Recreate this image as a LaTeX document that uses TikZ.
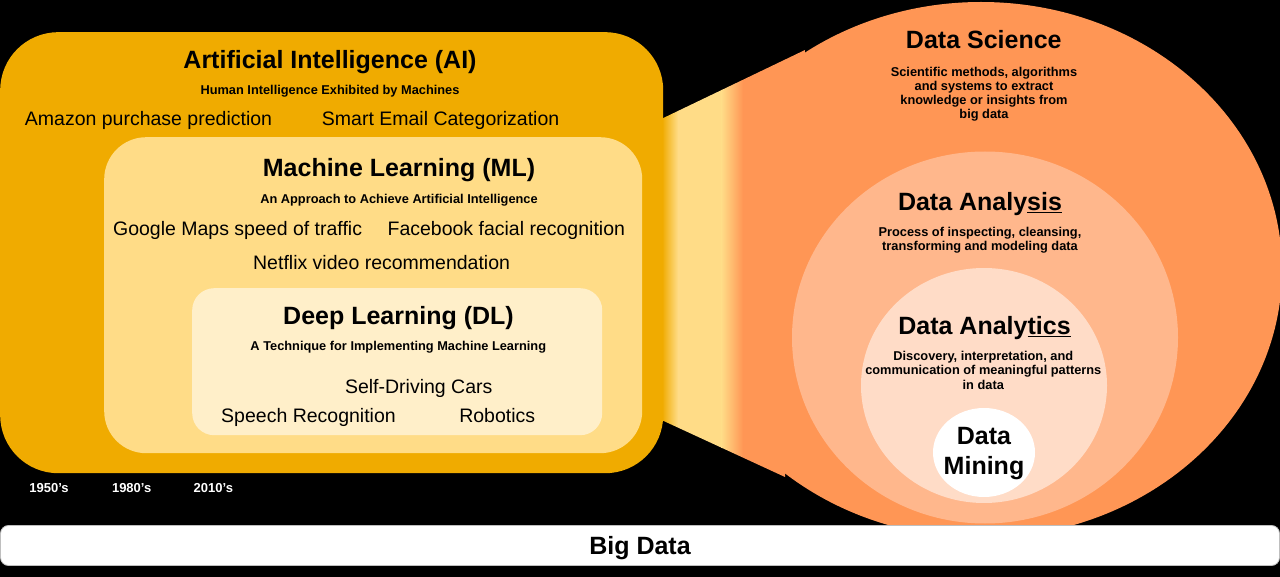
\documentclass[tikz,border=0pt]{standalone}
\usepackage{fontspec}
\setmainfont{Liberation Sans}
\usetikzlibrary{shapes.geometric, positioning}

\definecolor{aigold}{RGB}{240,171,0}
\definecolor{mlyellow}{RGB}{255,220,135}
\definecolor{dlcream}{RGB}{255,239,201}
\definecolor{dsorange}{RGB}{255,150,85}
\definecolor{daorange}{RGB}{255,183,140}
\definecolor{dapeach}{RGB}{255,220,199}

\newcommand{\uscore}[1]{\setbox0\hbox{#1}\rlap{\rule[-2.6pt]{\wd0}{1.3pt}}\box0}

\begin{document}
\begin{tikzpicture}[
    x=1pt, y=-1pt,
    aibox/.style={rectangle, fill=aigold, rounded corners=58pt, anchor=north west, inner sep=0pt},
    mlbox/.style={rectangle, fill=mlyellow, rounded corners=42pt, anchor=north west, inner sep=0pt},
    dlbox/.style={rectangle, fill=dlcream, rounded corners=22pt, anchor=north west, inner sep=0pt},
    field/.style={ellipse, inner sep=0pt},
    title/.style={font=\fontsize{25}{30}\selectfont\bfseries, anchor=base, inner sep=0pt},
    subtitle/.style={font=\fontsize{12.8}{14.5}\selectfont\bfseries, anchor=base, inner sep=0pt},
    example/.style={font=\fontsize{19.5}{22}\selectfont, anchor=base, inner sep=0pt},
    era/.style={font=\fontsize{13}{15}\selectfont\bfseries, text=white, anchor=base, inner sep=0pt},
    desc/.style={font=\fontsize{12.8}{14.2}\selectfont\bfseries, align=center, anchor=north, inner sep=0pt},
    minetext/.style={font=\fontsize{25}{30}\selectfont\bfseries, align=center, anchor=north, inner sep=0pt},
    bar/.style={rectangle, fill=white, draw=gray!50, line width=0.8pt, rounded corners=8pt, minimum width=1279pt, minimum height=40pt, text depth=0pt, font=\fontsize{25}{30}\selectfont\bfseries}
]

\useasboundingbox (0,0) rectangle (1280,577);
\fill[black] (0,0) rectangle (1280,577);

% Data Science (outer circle)
\node[field, fill=dsorange, minimum width=602pt, minimum height=536pt] (science) at (981,270) {};

% Funnel from AI to Data Science
\begin{scope}
  \clip (655,122) -- (805,50) -- (785,477) -- (655,417) -- cycle;
  \shade[left color=aigold, right color=mlyellow] (662,0) rectangle (678,577);
  \fill[mlyellow] (677.5,0) rectangle (722,577);
  \shade[left color=mlyellow, right color=dsorange] (721.5,0) rectangle (743,577);
  \fill[dsorange] (742.5,0) rectangle (810,577);
\end{scope}

% Inner circles
\node[field, fill=daorange, minimum width=386pt, minimum height=372pt] (analysis) at (985,337.5) {};
\node[field, fill=dapeach, minimum width=246pt, minimum height=235pt] (analytics) at (984,385.5) {};
\node[field, fill=white, minimum width=102pt, minimum height=89pt] (mining) at (984,452.5) {};

% AI / ML / DL boxes
\node[aibox, minimum width=663pt, minimum height=441pt] (ai) at (0,32) {};
\node[mlbox, minimum width=538pt, minimum height=316pt] (ml) at (104,137) {};
\node[dlbox, minimum width=410pt, minimum height=147pt] (dl) at (192,288) {};

% Artificial Intelligence
\node[title] (aititle) at (330,68.3) {Artificial Intelligence (AI)};
\node[subtitle] (aisub) at (330,95) {Human Intelligence Exhibited by Machines};
\node[example] (amazon) at (148.5,126) {Amazon purchase prediction};
\node[example] (email) at (440.6,126) {Smart Email Categorization};

% Machine Learning
\node[title] (mltitle) at (399,176.7) {Machine Learning (ML)};
\node[subtitle] (mlsub) at (399,204) {An Approach to Achieve Artificial Intelligence};
\node[example] (maps) at (237.6,236) {Google Maps speed of traffic};
\node[example] (facebook) at (506.3,236) {Facebook facial recognition};
\node[example] (netflix) at (381.6,270) {Netflix video recommendation};

% Deep Learning
\node[title] (dltitle) at (398.5,325) {Deep Learning (DL)};
\node[subtitle] (dlsub) at (398.3,350.7) {A Technique for Implementing Machine Learning};
\node[example] (cars) at (418.7,393.3) {Self-Driving Cars};
\node[example] (speech) at (308.5,422.3) {Speech Recognition};
\node[example] (robotics) at (497.2,422.3) {Robotics};

% Timeline
\node[era] (e1950) at (49,492.3) {1950's};
\node[era, right=43pt of e1950] (e1980) {1980's};
\node[era, right=42pt of e1980] (e2010) {2010's};

% Data texts
\node[title] (dstitle) at (983.8,49) {Data Science};
\node[desc] (dsdesc) at (984,66.7) {Scientific methods, algorithms\\and systems to extract\\knowledge or insights from\\big data};
\node[title] (datitle) at (980,210.7) {Data Analy\uscore{sis}};
\node[desc] (dadesc) at (980,227.3) {Process of inspecting, cleansing,\\transforming and modeling data};
\node[title] (dytitle) at (984.5,334.3) {Data Analy\uscore{tics}};
\node[desc] (dydesc) at (983.3,351.3) {Discovery, interpretation, and\\communication of meaningful patterns\\in data};
\node[minetext] (minetext) at (984,427.5) {Data\\Mining};

% Big Data bar
\node[bar] (bigdata) at (640,545.5) {Big Data};

\end{tikzpicture}
\end{document}
